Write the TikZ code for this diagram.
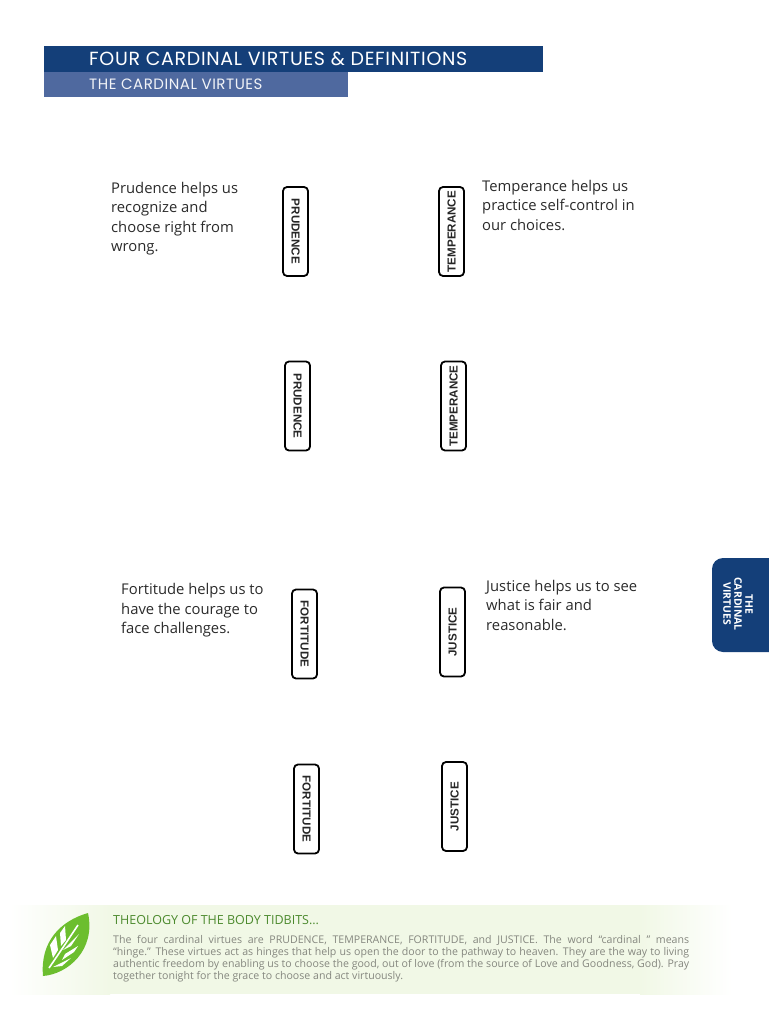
\documentclass[tikz,border=0pt]{standalone}
\usepackage{fontspec}
\setmainfont{Open Sans}
\newfontfamily\boxfont{Liberation Sans}
\newfontfamily\headfont[LetterSpace=3.6]{Poppins}
\definecolor{navy}{HTML}{143F79}
\definecolor{midblue}{HTML}{4F699F}
\definecolor{panelgreen}{HTML}{F1F8E6}
\definecolor{leafgreen}{HTML}{6CBE2E}
\definecolor{headgreen}{HTML}{4C8A2E}
\definecolor{bodygray}{HTML}{85877F}
\definecolor{bodyblack}{HTML}{2B2B2B}
\newcommand{\tidline}[1]{\makebox[576pt][s]{#1}}

\begin{document}
\begin{tikzpicture}[x=1pt,y=-1pt,
  virtue/.style={draw=black,line width=1.8pt,rounded corners=4pt,minimum width=89pt,minimum height=25pt,inner sep=0pt,font=\boxfont\bfseries\fontsize{11.6}{12}\selectfont,text=black!85},
  blurb/.style={anchor=west,inner sep=0pt,align=left,text=bodyblack,font=\fontsize{14.8}{19.5}\selectfont},
  tidbit/.style={anchor=west,inner sep=0pt,text=bodygray,font=\fontsize{10.6}{12}\selectfont}]

\def\tabwidth{768};
\def\tabheight{1024};

\useasboundingbox (0,0) rectangle (\tabwidth,\tabheight);
\fill[white] (0,0) rectangle (\tabwidth,\tabheight);

% title bars
\fill[navy] (44,46) rectangle (543,72);
\fill[midblue] (44,72) rectangle (348,97);
\node[anchor=west,inner sep=0pt,text=white,font=\headfont\fontsize{19}{20}\selectfont] (title) at (89,59) {FOUR CARDINAL VIRTUES \& DEFINITIONS};
\node[anchor=west,inner sep=0pt,text=white!92!midblue,font=\headfont\fontsize{15}{16}\selectfont] (subtitle) at (89,84) {THE CARDINAL VIRTUES};

% first pair
\node[blurb] (prudencetext) at (111,218.5) {Prudence helps us\\recognize and\\choose right from\\wrong.};
\node[virtue,rotate=-90] (prudenceA) at (295.5,231.5) {PRUDENCE};
\node[virtue,rotate=90] (temperanceA) at (451.5,231.5) {TEMPERANCE};
\node[blurb] (temperancetext) at (482,205) {Temperance helps us\\practice self-control in\\our choices.};
\node[virtue,rotate=-90] (prudenceB) at (297.5,406) {PRUDENCE};
\node[virtue,rotate=90] (temperanceB) at (453.5,406) {TEMPERANCE};

% second pair
\node[blurb] (fortitudetext) at (121,610.5) {Fortitude helps us to\\have the courage to\\face challenges.};
\node[virtue,rotate=-90] (fortitudeA) at (304.5,634) {FORTITUDE};
\node[virtue,rotate=90] (justiceA) at (452.5,632) {JUSTICE};
\node[blurb] (justicetext) at (486,605) {Justice helps us to see\\what is fair and\\reasonable.};
\node[virtue,rotate=-90] (fortitudeB) at (306.5,809) {FORTITUDE};
\node[virtue,rotate=90] (justiceB) at (454.5,806.5) {JUSTICE};

% side tab
\fill[navy,rounded corners=11pt] (790,558) -- (712,558) -- (712,652) -- (790,652) -- cycle;
\node[rotate=-90,align=center,inner sep=0pt,text=white,font=\bfseries\fontsize{10.4}{11}\selectfont] (tab) at (738,604) {THE\\CARDINAL\\VIRTUES};

% tidbits panel
\shade[left color=white,right color=panelgreen] (10,905) rectangle (110,994);
\fill[panelgreen] (110,905) rectangle (640,994);
\shade[left color=panelgreen,right color=white] (640,905) rectangle (732,994);

% leaf
\fill[leafgreen] (88,913) .. controls (60,921) and (40,942) .. (43,976) .. controls (68,974) and (96,950) .. (88,913) -- cycle;
\draw[white,line width=1.6pt] (49,968) .. controls (58,955) and (68,940) .. (78,925);
\fill[white] (53,958) -- (50,945) -- (56,936) -- (58,950) -- cycle;
\fill[white] (61,946) -- (60,933) -- (65,926) -- (66,940) -- cycle;
\fill[white] (63,950) -- (79,934) -- (71,946) -- cycle;
\fill[white] (65,954) -- (78,946) -- (74,952) -- (62,960) -- cycle;
\fill[white] (53,967) -- (71,958) -- (62,966) -- cycle;

\node[anchor=west,inner sep=0pt,text=headgreen,font=\fontsize{12.5}{15}\selectfont] (tidbithead) at (113,920) {THEOLOGY OF THE BODY TIDBITS...};
\node[tidbit] (lineA) at (113,940) {\tidline{The four cardinal virtues are PRUDENCE, TEMPERANCE, FORTITUDE, and JUSTICE. The word “cardinal ” means}};
\node[tidbit] (lineB) at (113,952.5) {\tidline{“hinge.” These virtues act as hinges that help us open the door to the pathway to heaven. They are the way to living}};
\node[tidbit] (lineC) at (113,965) {\tidline{authentic freedom by enabling us to choose the good, out of love (from the source of Love and Goodness, God). Pray}};
\node[tidbit] (lineD) at (113,977) {together tonight for the grace to choose and act virtuously.};
\end{tikzpicture}
\end{document}
